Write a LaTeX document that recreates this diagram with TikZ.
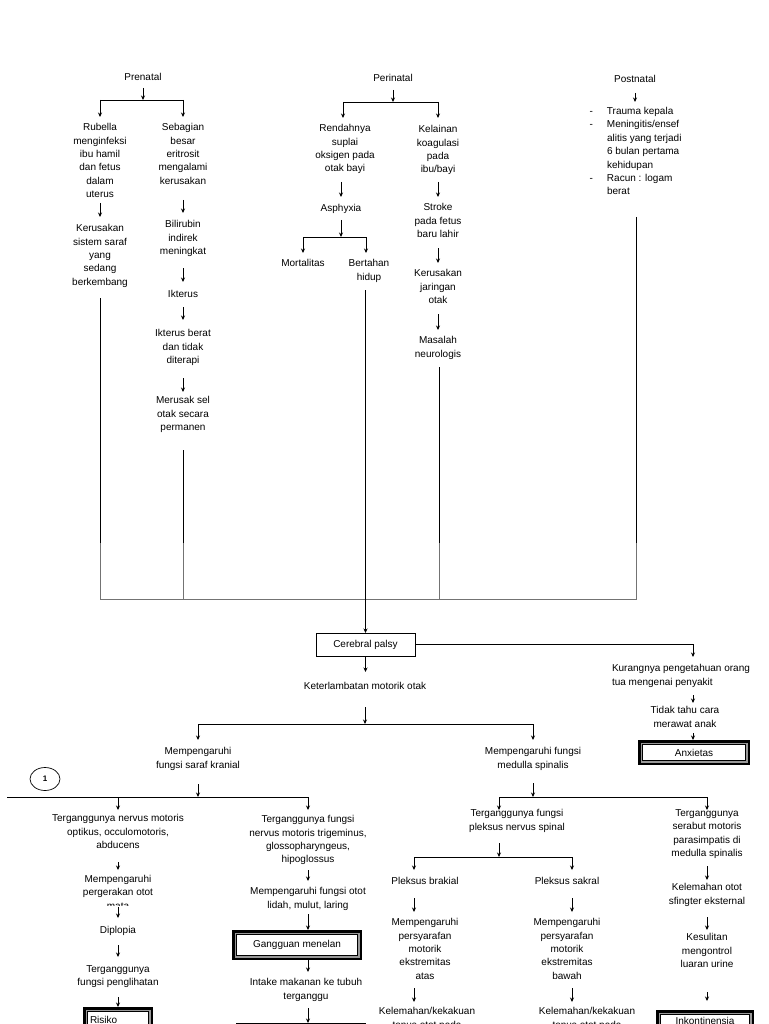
\documentclass[tikz,border=0pt]{standalone}
\usepackage{fontspec}
\setmainfont{Liberation Sans}
\usetikzlibrary{arrows.meta,shapes.geometric}
\newcommand\vdn[3]{\draw[arr] (#1 |- 0,#2) -- (#1 |- 0,#3);}
\newcommand\vln[3]{\draw[ln] (#1 |- 0,#2) -- (#1 |- 0,#3);}
\begin{document}
\begin{tikzpicture}[x=1pt,y=-1pt,
  every node/.style={inner sep=0pt, outer sep=0pt, font=\fontsize{10}{13.4}\selectfont, align=center},
  t/.style={anchor=north},
  ln/.style={line width=0.75pt},
  lg/.style={line width=0.6pt, draw=black!55},
  arr/.style={line width=0.75pt, -{Stealth[length=4.5pt,width=4pt]}},
  box/.style={draw, line width=0.8pt},
  dbl/.style={draw=black, line width=0.7pt, fill=white,
     preaction={draw=black, line width=8.4pt},
     preaction={draw=black!40, line width=3.4pt}},
]
\useasboundingbox (0,0) rectangle (768,1024);
\fill[white] (0,0) rectangle (768,1024);

% ---------- Prenatal ----------
\node[t] (pre) at (143,73.5) {Prenatal};
\node[t] (rub) at (100,123.5) {Rubella\\menginfeksi\\ibu hamil\\dan fetus\\dalam\\uterus};
\node[t] (ker) at (100,224.5) {Kerusakan\\sistem saraf\\yang\\sedang\\berkembang};
\node[t] (seb) at (183,123.5) {Sebagian\\besar\\eritrosit\\mengalami\\kerusakan};
\node[t] (bil) at (183,220.5) {Bilirubin\\indirek\\meningkat};
\node[t] (ikt) at (183,290.5) {Ikterus};
\node[t] (ikb) at (183,329.5) {Ikterus berat\\dan tidak\\diterapi};
\node[t] (mer) at (183,396.5) {Merusak sel\\otak secara\\permanen};

\vdn{pre.south}{88}{100}
\draw[ln] (rub.north |- 0,100) -- (seb.north |- 0,100);
\vdn{rub.north}{100}{117}
\vdn{seb.north}{100}{117}
\vdn{ker.north}{203}{217}
\vdn{bil.north}{200}{213}
\vdn{ikt.north}{268}{282}
\vdn{ikb.north}{307}{320}
\vdn{mer.north}{378}{392}

% ---------- Perinatal ----------
\node[t] (peri) at (393,74.5) {Perinatal};
\node[t] (ren) at (345,124.5) {Rendahnya\\suplai\\oksigen pada\\otak bayi};
\node[t] (asp) at (341,204.5) {Asphyxia};
\node[t] (mor) at (303,259.5) {Mortalitas};
\node[t] (ber) at (369,259.5) {Bertahan\\hidup};
\node[t] (kel) at (438,125.5) {Kelainan\\koagulasi\\pada\\ibu/bayi};
\node[t] (str) at (438,203.5) {Stroke\\pada fetus\\baru lahir};
\node[t] (kej) at (438,269.5) {Kerusakan\\jaringan\\otak};
\node[t] (mas) at (438,336.5) {Masalah\\neurologis};

\vdn{peri.south}{90}{102}
\draw[ln] (343,102) -- (kel.north |- 0,102);
\vdn{343,0}{102}{118}
\vdn{kel.north}{102}{118}
\vdn{asp.north |- 0,0}{182}{197}
\vdn{str.north}{182}{197}
\vdn{kej.north}{248}{263}
\vdn{mas.north}{314}{330}
\vdn{asp.south}{220}{237}
\draw[ln] (mor.north |- 0,237) -- (366,237);
\vdn{mor.north}{237}{253}
\vdn{366,0}{237}{253}

% ---------- Postnatal ----------
\node[t] (post) at (635,75.5) {Postnatal};
\node[anchor=north west, align=left] (plist) at (589.5,105.2) {%
\begin{tabular}{@{}p{17.5pt}@{}l@{}}
-&Trauma kepala\\
-&Meningitis/ensef\\
&alitis yang terjadi\\
&6 bulan pertama\\
&kehidupan\\
-&Racun : logam\\
&berat
\end{tabular}};
\vdn{post.south}{93}{102}

% ---------- collecting lines ----------
\node[box, minimum width=99, minimum height=23] (cp) at (365.5,644.5) {Cerebral palsy};
\coordinate (c1) at (100,298);
\coordinate (c2) at (183,450);
\coordinate (c4) at (439,367);
\coordinate (c5) at (636,217);
\draw[ln] (c1) -- (c1 |- 0,543);
\draw[ln] (c2) -- (c2 |- 0,543);
\draw[ln] (c4) -- (c4 |- 0,543);
\draw[ln] (c5) -- (c5 |- 0,543);
\draw[lg] (c1 |- 0,543) -- (c1 |- 0,599) -- (c5 |- 0,599) -- (c5 |- 0,543);
\draw[lg] (c2 |- 0,543) -- (c2 |- 0,599);
\draw[lg] (c4 |- 0,543) -- (c4 |- 0,599);
\draw[arr] (cp.north |- 0,290) -- (cp.north);

% ---------- after cerebral palsy ----------
\node[t] (ket) at (365,682.5) {Keterlambatan motorik otak};
\draw[arr] (cp.south) -- (cp.south |- 0,672);
\node[anchor=north west, align=left] (kur) at (612,664.5) {Kurangnya pengetahuan orang\\tua mengenai penyakit};
\coordinate (kurin) at (693,657);
\draw[arr] (cp.east) -| (kurin);
\node[t] (tid) at (685,706.5) {Tidak tahu cara\\merawat anak};
\vdn{kurin}{695}{703}
\node[dbl, minimum width=103.6, minimum height=16.6] (anx) at (694,752.5) {Anxietas};
\vdn{kurin}{733}{740}

% ---------- main fork ----------
\node[t] (msk) at (198,747.5) {Mempengaruhi\\fungsi saraf kranial};
\node[t] (msp) at (533,747.5) {Mempengaruhi fungsi\\medulla spinalis};
\vdn{ket.south}{707}{724}
\draw[ln] (msk.north |- 0,724) -- (msp.north |- 0,724);
\vdn{msk.north}{724}{740}
\vdn{msp.north}{724}{740}

% ---------- kranial ----------
\node[draw, ellipse, line width=0.7pt, minimum width=30, minimum height=23,
      font=\bfseries\fontsize{8}{9}\selectfont] (one) at (45,779) {1};
\coordinate (lend) at (7,797);
\node[t] (tnm) at (118,814.5) {Terganggunya nervus motoris\\optikus, occulomotoris,\\abducens};
\node[t] (tfn) at (308,815.5) {Terganggunya fungsi\\nervus motoris trigeminus,\\glossopharyngeus,\\hipoglossus};
\vdn{msk.south}{784}{797}
\draw[ln] (lend) -- (tfn.north |- lend);
\vdn{tnm.north}{797}{810}
\vdn{tfn.north}{797}{810}

\begin{scope}
\clip (40,860) rectangle (200,905);
\node[t] (mpo) at (118,875) {Mempengaruhi\\pergerakan otot\\mata};
\end{scope}
\node[t] (dip) at (118,926.5) {Diplopia};
\node[t] (tfp) at (118,965.5) {Terganggunya\\fungsi penglihatan};
\node[dbl, anchor=north west, minimum width=61.6, minimum height=60] (risbox) at (87.2,1011.2) {};
\node[anchor=north west] (ris) at (90,1016) {Risiko};
\vdn{tnm.south}{862}{870}
\vdn{mpo.north}{907}{918}
\vdn{dip.north}{945}{957}
\vdn{tfp.north}{997}{1007}

\node[t] (mfo) at (308,887.5) {Mempengaruhi fungsi otot\\lidah, mulut, laring};
\node[dbl, minimum width=121.6, minimum height=21.6] (gm) at (297,945) {Gangguan menelan};
\node[t] (int) at (306,978.5) {Intake makanan ke tubuh\\terganggu};
\node[dbl, anchor=north, minimum width=121.6, minimum height=40] (box2) at (301,1027.2) {};
\vdn{tfn.north}{870}{881}
\vdn{tfn.north}{914}{930}
\vdn{tfn.north}{960}{972}
\vdn{tfn.north}{1008}{1023}

% ---------- medulla spinalis ----------
\coordinate (m1) at (499,797);
\coordinate (m2) at (707,797);
\node[t] (tps) at (517,809.5) {Terganggunya fungsi\\pleksus nervus spinal};
\node[t] (tsm) at (707,809.5) {Terganggunya\\serabut motoris\\parasimpatis di\\medulla spinalis};
\vdn{msp.south}{783}{797}
\draw[ln] (m1) -- (m2);
\vdn{m1}{797}{810}
\vdn{m2}{797}{810}

\coordinate (p1) at (414,857);
\coordinate (p2) at (572,857);
\node[t] (pbr) at (425,877.5) {Pleksus brakial};
\node[t] (psk) at (567,877.5) {Pleksus sakral};
\vdn{m1}{843}{857}
\draw[ln] (p1) -- (p2);
\vdn{p1}{857}{870}
\vdn{p2}{857}{870}

\node[t] (mpa) at (425,918.5) {Mempengaruhi\\persyarafan\\motorik\\ekstremitas\\atas};
\node[t] (mpb) at (567,918.5) {Mempengaruhi\\persyarafan\\motorik\\ekstremitas\\bawah};
\node[t] (kba) at (427,1007.5) {Kelemahan/kekakuan\\tonus otot pada};
\node[t] (kbb) at (587,1007.5) {Kelemahan/kekakuan\\tonus otot pada};
\vdn{p1}{898}{912}
\vdn{p1}{988}{1002}
\vdn{p2}{898}{912}
\vdn{p2}{988}{1002}

\node[t] (kos) at (707,883.5) {Kelemahan otot\\sfingter eksternal};
\node[t] (ksl) at (707,933.5) {Kesulitan\\mengontrol\\luaran urine};
\node[dbl, anchor=north, minimum width=89.6, minimum height=40] (inkbox) at (705,1014.2) {};
\node[t] (ink) at (705,1017.5) {Inkontinensia};
\vdn{m2}{866}{880}
\vdn{m2}{917}{930}
\vdn{m2}{992}{1001}
\end{tikzpicture}
\end{document}
